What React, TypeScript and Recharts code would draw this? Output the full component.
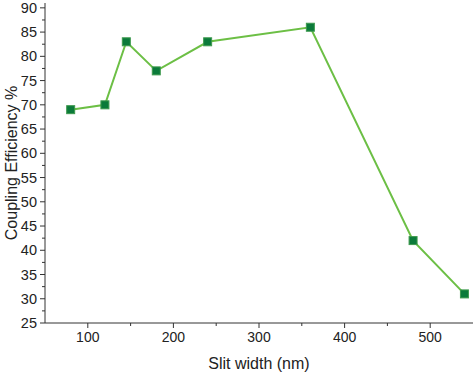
import React from "react";
import { LineChart, Line, XAxis, YAxis, Label } from "recharts";

// slit width (nm) vs coupling efficiency (%)
const slitWidths = [80, 120, 145, 180, 240, 360, 480, 540];
const efficiency = [69, 70, 83, 77, 83, 86, 42, 31];

const xTicks = [50, 100, 150, 200, 250, 300, 350, 400, 450, 500, 550];
const xLabels = [100, 200, 300, 400, 500];
const yTicks = [
  25, 27.5, 30, 32.5, 35, 37.5, 40, 42.5, 45, 47.5, 50, 52.5, 55, 57.5, 60,
  62.5, 65, 67.5, 70, 72.5, 75, 77.5, 80, 82.5, 85, 87.5, 90,
];
const yLabels = [25, 30, 35, 40, 45, 50, 55, 60, 65, 70, 75, 80, 85, 90];

const data = slitWidths.map((w, i) => ({ width: w, eff: efficiency[i] }));

const FONT = "'Liberation Sans', Arial, sans-serif";
const AXIS = "#333";

const XTick = (props: any) => {
  const { x, y, payload } = props;
  const major = xLabels.includes(payload.value);
  const top = y - 7;
  return (
    <g>
      {payload.value !== 50 && payload.value !== 550 && (
        <line x1={x} x2={x} y1={top} y2={top + (major ? 5 : 3)} stroke={AXIS} />
      )}
      {major && (
        <text x={x} y={top + 19} textAnchor="middle" fontSize={14} fill="#222" fontFamily={FONT}>
          {payload.value}
        </text>
      )}
    </g>
  );
};

const YTick = (props: any) => {
  const { x, y, payload } = props;
  const major = yLabels.includes(payload.value);
  const right = x + 7;
  return (
    <g>
      <line x1={right} x2={right - (major ? 5 : 3)} y1={y} y2={y} stroke={AXIS} />
      {major && (
        <text x={right - 8} y={y + 5} textAnchor="end" fontSize={14.5} fill="#222" fontFamily={FONT}>
          {payload.value}
        </text>
      )}
    </g>
  );
};

const SquareDot = (props: any) => {
  const { cx, cy } = props;
  if (cx == null || cy == null) return null;
  return (
    <rect x={cx - 4} y={cy - 4} width={8} height={8} fill="#0b7a3a" stroke="#3e9a4e" strokeWidth={1} />
  );
};

const YTitle = (props: any) => {
  const vb = props.viewBox || {};
  const cx = 11;
  const cy = vb.y + vb.height / 2;
  return (
    <text
      x={cx}
      y={cy}
      transform={`rotate(-90 ${cx} ${cy})`}
      textAnchor="middle"
      dominantBaseline="central"
      fontSize={16}
      fill="#222"
      fontFamily={FONT}
    >
      Coupling Efficiency %
    </text>
  );
};

export default function App() {
  return (
    <div style={{ position: "absolute", top: 0, left: 0, width: 474, height: 372, background: "#fff" }}>
      <LineChart
        width={474}
        height={372}
        data={data}
        margin={{ top: 3, right: 1, left: 0, bottom: 0 }}
      >
        <XAxis
          dataKey="width"
          type="number"
          domain={[50, 550]}
          ticks={xTicks}
          interval={0}
          tick={<XTick />}
          tickLine={false}
          tickSize={5}
          tickMargin={2}
          height={49}
          stroke={AXIS}
          label={{
            value: "Slit width (nm)",
            position: "insideBottom",
            offset: 3,
            fontSize: 16,
            fill: "#222",
            fontFamily: FONT,
          }}
        />
        <XAxis
          xAxisId="top"
          orientation="top"
          dataKey="width"
          type="number"
          domain={[50, 550]}
          tick={false}
          tickLine={false}
          height={0}
          stroke="#777"
        />
        <YAxis
          type="number"
          domain={[25, 91]}
          ticks={yTicks}
          interval={0}
          tick={<YTick />}
          tickLine={false}
          tickSize={5}
          tickMargin={2}
          width={45}
          stroke={AXIS}
        >
          <Label content={<YTitle />} />
        </YAxis>
        <YAxis
          yAxisId="right"
          orientation="right"
          type="number"
          domain={[25, 91]}
          tick={false}
          tickLine={false}
          width={0}
          stroke="#999"
        />
        <Line
          type="linear"
          dataKey="eff"
          stroke="#6cbf45"
          strokeWidth={2}
          dot={<SquareDot />}
          activeDot={false}
          isAnimationActive={false}
        />
      </LineChart>
    </div>
  );
}
